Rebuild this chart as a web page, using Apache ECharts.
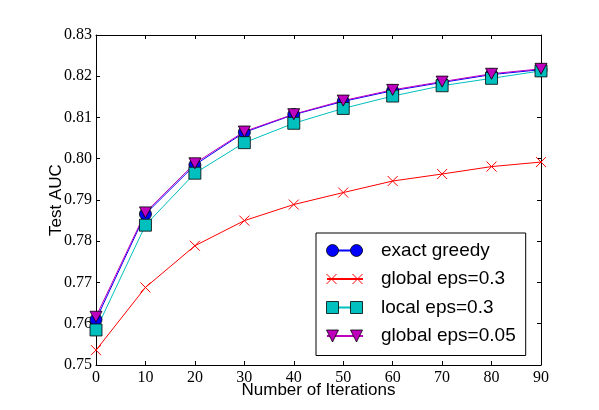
<!DOCTYPE html>
<html lang="en">
<head>
    <meta charset="UTF-8">
    <title>Test AUC vs iterations</title>
    <style>
        html, body { margin: 0; padding: 0; background: #fff; }
    </style>
</head>
<body>
    <div id="chart" style="width: 599px;height:410px;"></div>
</body>
</html>
<script src="https://cdn.jsdelivr.net/npm/echarts@6/dist/echarts.min.js"></script>
<script type="text/javascript">
    const iterations = [0, 10, 20, 30, 40, 50, 60, 70, 80, 90];

    const exactGreedy   = [0.7610, 0.7866, 0.7985, 0.8064, 0.8107, 0.8139, 0.8165, 0.8185, 0.8204, 0.8216];
    const globalEps03   = [0.7536, 0.7688, 0.7789, 0.7850, 0.7889, 0.7918, 0.7946, 0.7963, 0.7981, 0.7992];
    const localEps03    = [0.7585, 0.7839, 0.7965, 0.8039, 0.8086, 0.8122, 0.8152, 0.8177, 0.8195, 0.8213];
    const globalEps005  = [0.7617, 0.7870, 0.7989, 0.8066, 0.8108, 0.8141, 0.8167, 0.8187, 0.8206, 0.8218];

    const names = ['exact greedy', 'global eps=0.3', 'local eps=0.3', 'global eps=0.05'];

    const chart = echarts.init(document.getElementById('chart'));

    const tickFont = {fontFamily: 'Liberation Serif', fontSize: 16, color: '#000'};
    const sansFont = 'Liberation Sans';

    const xMark = 'path://M0,0L10,10M10,0L0,10';
    const triDown = 'path://M0,0L12,0L6,11Z';

    function pts(arr) {
        return iterations.map((x, i) => [x, arr[i]]);
    }

    function frameAxis(pos, isX) {
        const a = {
            type: 'value',
            position: pos,
            axisLine: {show: true, onZero: false, lineStyle: {color: '#000', width: 1}},
            axisTick: {show: true, inside: true, length: 4, lineStyle: {color: '#000'}},
            splitLine: {show: false},
            axisLabel: {show: false}
        };
        if (isX) {
            a.min = 0; a.max = 90; a.interval = 10;
        } else {
            a.min = 0.75; a.max = 0.83; a.interval = 0.01;
        }
        return a;
    }

    const xMain = frameAxis('bottom', true);
    xMain.axisLabel = Object.assign({show: true, margin: 5}, tickFont);
    xMain.name = 'Number of Iterations';
    xMain.nameLocation = 'middle';
    xMain.nameGap = 17;
    xMain.nameMoveOverlap = false;
    xMain.nameTextStyle = {fontFamily: sansFont, fontSize: 17, color: '#000'};

    const yMain = frameAxis('left', false);
    yMain.axisLabel = Object.assign({show: true, margin: 4, formatter: v => v.toFixed(2)}, tickFont);
    yMain.name = 'Test AUC';
    yMain.nameLocation = 'middle';
    yMain.nameGap = 31;
    yMain.nameMoveOverlap = false;
    yMain.nameTextStyle = {fontFamily: sansFont, fontSize: 17, color: '#000'};

    const legendBase = {
        orient: 'vertical',
        left: 316,
        top: 233,
        padding: [8, 10, 10, 10],
        itemGap: 9.5,
        itemWidth: 36,
        itemHeight: 12,
        selectedMode: false
    };

    // legend with line + text (markers hidden), framed box
    const legendLines = Object.assign({}, legendBase, {
        borderColor: '#000',
        borderWidth: 1,
        backgroundColor: '#fff',
        textStyle: {fontFamily: sansFont, fontSize: 19, color: '#000', padding: [0, 0, 0, 13]},
        data: names.map(n => ({name: n, itemStyle: {color: 'transparent', borderColor: 'transparent', opacity: 0}}))
    });

    // legend with two markers per row, drawn on top
    const legendMarks = Object.assign({}, legendBase, {
        textStyle: {fontFamily: sansFont, fontSize: 19, color: 'transparent', padding: [0, 0, 0, 13]},
        data: [
            {name: names[0], icon: 'path://M0,6A6,6,0,1,1,12,6A6,6,0,1,1,0,6ZM24,6A6,6,0,1,1,36,6A6,6,0,1,1,24,6Z',
                itemStyle: {color: '#0000ff', borderColor: '#000', borderWidth: 0.8}},
            {name: names[1], icon: 'path://M0,1L10,11M10,1L0,11M26,1L36,11M36,1L26,11M18,0L18,0M18,12L18,12',
                itemStyle: {color: 'transparent', borderColor: '#ff0000', borderWidth: 1}},
            {name: names[2], icon: 'path://M0,0L12,0L12,12L0,12ZM24,0L36,0L36,12L24,12Z',
                itemStyle: {color: '#00bfbf', borderColor: '#000', borderWidth: 0.8}},
            {name: names[3], icon: 'path://M0,0L12,0L6,12ZM24,0L36,0L30,12Z',
                itemStyle: {color: '#bf00bf', borderColor: '#000', borderWidth: 0.8}}
        ]
    });

    chart.setOption({
        animation: false,
        backgroundColor: '#fff',
        grid: {left: 96, right: 58, top: 35, bottom: 45, containLabel: false},
        legend: [legendLines, legendMarks],
        xAxis: [xMain, frameAxis('top', true)],
        yAxis: [yMain, frameAxis('right', false)],
        series: [
            {
                name: names[0], type: 'line', data: pts(exactGreedy),
                symbol: 'circle', symbolSize: 12,
                lineStyle: {color: '#0000ff', width: 1},
                itemStyle: {color: '#0000ff', borderColor: '#000', borderWidth: 0.8}
            },
            {
                name: names[1], type: 'line', data: pts(globalEps03),
                symbol: xMark, symbolSize: 10,
                lineStyle: {color: '#ff0000', width: 1},
                itemStyle: {color: 'transparent', borderColor: '#ff0000', borderWidth: 1}
            },
            {
                name: names[2], type: 'line', data: pts(localEps03),
                symbol: 'rect', symbolSize: 12,
                lineStyle: {color: '#00bfbf', width: 1},
                itemStyle: {color: '#00bfbf', borderColor: '#000', borderWidth: 0.8}
            },
            {
                name: names[3], type: 'line', data: pts(globalEps005),
                symbol: triDown, symbolSize: [12, 11],
                lineStyle: {color: '#bf00bf', width: 1},
                itemStyle: {color: '#bf00bf', borderColor: '#000', borderWidth: 0.8}
            }
        ]
    });
</script>
